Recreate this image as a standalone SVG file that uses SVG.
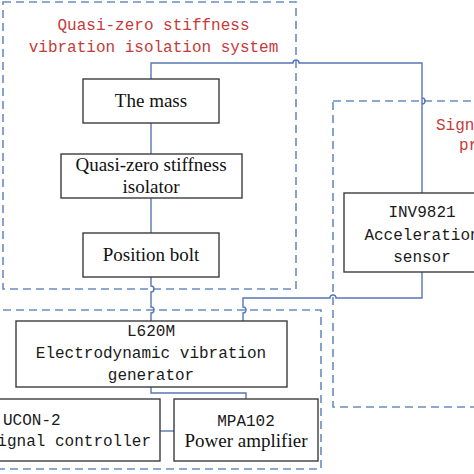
<svg xmlns="http://www.w3.org/2000/svg" width="474" height="474" viewBox="0 0 474 474">
<style>
.bg{fill:#ffffff}
.grp{fill:none;stroke:#6b8cbd;stroke-width:1.6;stroke-dasharray:8,5}
.box{fill:#ffffff;stroke:#3c3c3c;stroke-width:1.4}
.con{fill:none;stroke:#5677b5;stroke-width:1.4}
.mono{font-family:"Liberation Mono","DejaVu Sans Mono",monospace;font-size:16px;fill:#1a1a1a}
.serif{font-family:"Liberation Serif","Times New Roman",serif;font-size:19px;fill:#111111}
.title{font-family:"Liberation Mono","DejaVu Sans Mono",monospace;font-size:16px;fill:#c53a3a}
</style>
<rect class="bg" x="0" y="0" width="474" height="474"/>

<g id="groups">
  <rect class="grp" x="3" y="2" width="293" height="287"/>
  <rect class="grp" x="333" y="101" width="160" height="306"/>
  <rect class="grp" x="-10" y="310" width="331" height="159"/>
</g>

<g id="group-labels">
  <text class="title" x="153.5" y="30" text-anchor="middle">Quasi-zero stiffness</text>
  <text class="title" x="153.5" y="52" text-anchor="middle">vibration isolation system</text>
  <text class="title" x="436" y="130">Signal</text>
  <text class="title" x="459" y="150">processing</text>
</g>

<g id="connectors">
  <!-- mass top to sensor -->
  <path class="con" d="M151,79 V63 H293 A3,3 0 0 1 299,63 H422 V104 A3,3 0 0 0 422,98 M422,104 V193"/>
  <!-- mass to isolator -->
  <path class="con" d="M151,123 V154"/>
  <!-- isolator to bolt -->
  <path class="con" d="M151,198 V233"/>
  <!-- bolt to generator -->
  <path class="con" d="M151,277 V286 A3,3 0 0 1 151,292 V307 A3,3 0 0 1 151,313 V321"/>
  <!-- sensor to generator -->
  <path class="con" d="M422,272 V298 H336 A3,3 0 0 0 330,298 H243 V307 A3,3 0 0 1 243,313 V321"/>
  <!-- generator to amplifier -->
  <path class="con" d="M151,387 V393 H246 V399"/>
  <!-- controller to amplifier -->
  <path class="con" d="M160,431 H174"/>
</g>

<g id="mass">
  <rect class="box" x="83" y="79" width="136" height="44"/>
  <text class="serif" x="151" y="107" text-anchor="middle">The mass</text>
</g>

<g id="isolator">
  <rect class="box" x="61" y="154" width="181" height="44"/>
  <text class="serif" x="151" y="171" text-anchor="middle">Quasi-zero stiffness</text>
  <text class="serif" x="151" y="193" text-anchor="middle">isolator</text>
</g>

<g id="bolt">
  <rect class="box" x="83" y="233" width="136" height="44"/>
  <text class="serif" x="151" y="261" text-anchor="middle">Position bolt</text>
</g>

<g id="sensor">
  <rect class="box" x="344" y="193" width="160" height="79"/>
  <text class="mono" x="422" y="217" text-anchor="middle">INV9821</text>
  <text class="mono" x="422" y="240" text-anchor="middle">Acceleration</text>
  <text class="mono" x="422" y="262" text-anchor="middle">sensor</text>
</g>

<g id="generator">
  <rect class="box" x="16" y="321" width="271" height="66"/>
  <text class="mono" x="151" y="336" text-anchor="middle">L620M</text>
  <text class="mono" x="151" y="358" text-anchor="middle">Electrodynamic vibration</text>
  <text class="mono" x="151" y="380" text-anchor="middle">generator</text>
</g>

<g id="controller">
  <rect class="box" x="-10" y="399" width="170" height="62"/>
  <text class="mono" x="3" y="425">UCON-2</text>
  <text class="mono" x="151" y="446" text-anchor="end">Signal controller</text>
</g>

<g id="amplifier">
  <rect class="box" x="174" y="399" width="144" height="62"/>
  <text class="mono" x="246" y="426" text-anchor="middle">MPA102</text>
  <text class="serif" x="246" y="447" text-anchor="middle">Power amplifier</text>
</g>
</svg>
